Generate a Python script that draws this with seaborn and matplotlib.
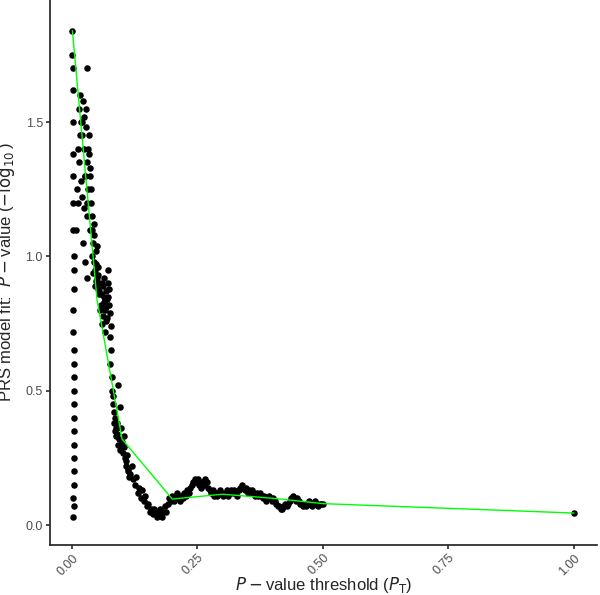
import numpy as np
import pandas as pd
import matplotlib
matplotlib.use("Agg")
import matplotlib.pyplot as plt
import seaborn as sns

# high-resolution thresholds
hr_x = [0.001, 0.001, 0.002, 0.002, 0.002, 0.003, 0.003, 0.003, 0.003, 0.004, 0.004, 0.004,
        0.003, 0.003, 0.004, 0.004, 0.005, 0.005, 0.004, 0.004, 0.005, 0.005, 0.004, 0.004,
        0.005, 0.003, 0.004, 0.003,
        0.008, 0.010, 0.012, 0.014, 0.016, 0.018, 0.020, 0.022, 0.024, 0.026, 0.028, 0.030,
        0.030, 0.032, 0.034, 0.036, 0.038, 0.040, 0.012, 0.015, 0.018, 0.021, 0.024, 0.027,
        0.030, 0.033, 0.036, 0.039, 0.016, 0.020, 0.025, 0.029, 0.034, 0.022, 0.026, 0.031,
        0.030, 0.036,
        0.040, 0.042, 0.044, 0.046, 0.048, 0.050, 0.052, 0.054, 0.041, 0.043, 0.045, 0.047,
        0.049, 0.051, 0.053, 0.055, 0.044, 0.048, 0.052,
        0.055, 0.057, 0.059, 0.061, 0.063, 0.065, 0.067, 0.069, 0.071, 0.073, 0.075, 0.077,
        0.056, 0.058, 0.060, 0.062, 0.064, 0.066, 0.068, 0.070, 0.072, 0.074, 0.076, 0.078,
        0.063, 0.067, 0.071, 0.075,
        0.079, 0.080, 0.081, 0.082, 0.083, 0.084, 0.085, 0.086, 0.087, 0.088, 0.089, 0.090,
        0.092, 0.094, 0.096, 0.098, 0.100, 0.102, 0.104, 0.106, 0.108, 0.110, 0.112, 0.114,
        0.091, 0.095, 0.099, 0.103, 0.107, 0.111,
        0.116, 0.119, 0.122, 0.125, 0.128, 0.131, 0.134, 0.137, 0.140, 0.143, 0.146, 0.149,
        0.152, 0.155, 0.158, 0.161, 0.164, 0.167, 0.170, 0.173, 0.176, 0.179, 0.182, 0.185,
        0.188, 0.191, 0.194, 0.197, 0.200, 0.203, 0.206, 0.209, 0.212, 0.215, 0.218, 0.221,
        0.224, 0.227, 0.230, 0.233, 0.236, 0.239, 0.242, 0.245, 0.248, 0.251, 0.254, 0.257,
        0.260, 0.263, 0.266, 0.269, 0.272, 0.275, 0.278, 0.281, 0.284, 0.287, 0.290, 0.293,
        0.296, 0.299, 0.302, 0.305, 0.308, 0.311, 0.314, 0.317, 0.320, 0.323, 0.326, 0.329,
        0.332, 0.335, 0.338, 0.341, 0.344, 0.347, 0.350, 0.353, 0.356, 0.359, 0.362, 0.365,
        0.368, 0.371, 0.374, 0.377, 0.380, 0.383, 0.386, 0.389, 0.392, 0.395, 0.398, 0.401,
        0.404, 0.407, 0.410, 0.413, 0.416, 0.419, 0.422, 0.425, 0.428, 0.431, 0.434, 0.437,
        0.440, 0.443, 0.446, 0.449, 0.452, 0.455, 0.458, 0.461, 0.464, 0.467, 0.470, 0.473,
        0.476, 0.479, 0.482, 0.485, 0.488, 0.491, 0.494, 0.497, 0.500, 1.000]
hr_y = [1.84, 1.75, 1.70, 1.62, 1.50, 1.38, 1.30, 1.20, 1.10, 1.00, 0.95, 0.88,
        0.80, 0.72, 0.65, 0.60, 0.55, 0.50, 0.45, 0.40, 0.35, 0.30, 0.25, 0.20,
        0.15, 0.10, 0.07, 0.03,
        1.10, 1.25, 1.40, 1.55, 1.60, 1.50, 1.45, 1.58, 1.40, 1.30, 1.55, 1.70,
        1.35, 1.25, 1.45, 1.30, 1.20, 1.15, 1.20, 1.35, 1.28, 1.22, 1.18, 1.30,
        1.15, 1.40, 1.10, 1.25, 1.45, 1.50, 1.52, 1.48, 1.38, 1.05, 0.98, 0.92,
        1.20, 1.33,
        1.10, 1.05, 0.98, 0.95, 1.02, 0.92, 0.88, 0.90, 1.00, 0.94, 1.08, 0.89,
        0.97, 1.04, 0.93, 0.87, 1.12, 0.91, 0.96,
        0.86, 0.82, 0.90, 0.78, 0.85, 0.80, 0.76, 0.84, 0.95, 0.88, 0.79, 0.74,
        0.80, 0.86, 0.75, 0.89, 0.83, 0.72, 0.81, 0.77, 0.90, 0.82, 0.70, 0.65,
        0.92, 0.87, 0.85, 0.60,
        0.55, 0.50, 0.45, 0.48, 0.42, 0.38, 0.40, 0.35, 0.36, 0.33, 0.38, 0.34,
        0.30, 0.32, 0.28, 0.36, 0.30, 0.27, 0.33, 0.25, 0.22, 0.26, 0.20, 0.18,
        0.52, 0.44, 0.31, 0.29, 0.24, 0.21,
        0.19, 0.22, 0.17, 0.15, 0.18, 0.12, 0.14, 0.10, 0.13, 0.09, 0.11, 0.07,
        0.08, 0.05, 0.06, 0.04, 0.06, 0.05, 0.03, 0.04, 0.06, 0.03, 0.05, 0.07,
        0.05, 0.08, 0.10, 0.09, 0.11, 0.09, 0.10, 0.12, 0.10, 0.09, 0.11, 0.10,
        0.12, 0.11, 0.13, 0.12, 0.14, 0.15, 0.16, 0.17, 0.16, 0.17, 0.15, 0.14,
        0.16, 0.15, 0.17, 0.16, 0.14, 0.13, 0.12, 0.13, 0.11, 0.12, 0.11, 0.12,
        0.13, 0.12, 0.11, 0.12, 0.13, 0.11, 0.12, 0.13, 0.12, 0.13, 0.12, 0.11,
        0.13, 0.14, 0.15, 0.14, 0.13, 0.14, 0.12, 0.13, 0.12, 0.13, 0.12, 0.11,
        0.12, 0.11, 0.12, 0.11, 0.10, 0.11, 0.09, 0.10, 0.11, 0.10, 0.09, 0.10,
        0.09, 0.08, 0.07, 0.07, 0.06, 0.06, 0.07, 0.08, 0.07, 0.08, 0.09, 0.10,
        0.11, 0.10, 0.09, 0.10, 0.09, 0.08, 0.08, 0.07, 0.08, 0.07, 0.08, 0.09,
        0.08, 0.07, 0.08, 0.09, 0.08, 0.07, 0.08, 0.08, 0.08, 0.045]

# broad thresholds joined by the green line
bar_x = [0.001, 0.05, 0.1, 0.2, 0.3, 0.4, 0.5, 1.0]
bar_y = [1.84, 0.84, 0.32, 0.097, 0.115, 0.10, 0.08, 0.045]

df = pd.DataFrame({"thr": hr_x, "p": hr_y})
line_df = pd.DataFrame({"thr": bar_x, "p": bar_y})

sns.set_theme(style="ticks")
plt.rcParams["font.family"] = ["Liberation Sans", "DejaVu Sans"]

fig, ax = plt.subplots(figsize=(6, 5.95), dpi=100)
fig.subplots_adjust(left=0.083, right=0.995, top=1.0, bottom=0.084)

sns.scatterplot(data=df, x="thr", y="p", color="black", s=22, linewidth=0, ax=ax)
sns.lineplot(data=line_df, x="thr", y="p", color="#00ff00", linewidth=1.0, ax=ax)

ax.set_xlim(-0.044, 1.046)
ax.set_ylim(-0.074, 1.954)
ax.set_xticks([0, 0.25, 0.5, 0.75, 1.0])
ax.set_xticklabels(["0.00", "0.25", "0.50", "0.75", "1.00"], rotation=45,
                   ha="right", va="top", rotation_mode="anchor")
ax.set_yticks([0, 0.5, 1.0, 1.5])
ax.set_yticklabels(["0.0", "0.5", "1.0", "1.5"])
ax.tick_params(labelsize=9, labelcolor="#4d4d4d", color="#333333", length=3, pad=2)
ax.set_xlabel(r"$P-$value threshold ($P_\mathrm{T}$)", fontsize=12, labelpad=0)
ax.set_ylabel(r"PRS model fit:  $P-$value ($-\log_{10}$)", fontsize=12, labelpad=2)
ax.xaxis.set_label_coords(0.5, -0.055)
ax.yaxis.set_label_coords(-0.06, 0.5)
sns.despine(ax=ax)

fig.savefig("out.png", dpi=100)
